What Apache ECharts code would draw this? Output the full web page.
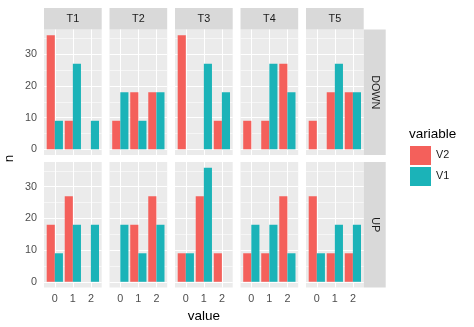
<!DOCTYPE html>
<html>
<head>
<meta charset="utf-8">
<script src="https://cdn.jsdelivr.net/npm/echarts@6/dist/echarts.min.js"></script>
<style>
  html, body { margin: 0; padding: 0; background: #fff; }
  #chart { width: 474px; height: 327px; }
</style>
</head>
<body>
<div id="chart"></div>
<script>
// facet labels and x categories
const facets = ['T1', 'T2', 'T3', 'T4', 'T5']
const rows = ['DOWN', 'UP']
const xValues = [0, 1, 2]

// counts per facet, one entry per x value
const downV2 = [[36, 9, 0], [9, 18, 18], [36, 0, 9], [9, 9, 27], [9, 18, 18]]
const downV1 = [[9, 27, 9], [18, 9, 18], [0, 27, 18], [0, 27, 18], [0, 27, 18]]
const upV2 = [[18, 27, 0], [0, 18, 27], [9, 27, 9], [9, 9, 27], [27, 9, 9]]
const upV1 = [[9, 18, 18], [18, 9, 18], [9, 36, 0], [18, 18, 9], [9, 18, 18]]

const yTicks = [0, 10, 20, 30]
const yMinor = [5, 15, 25, 35]

const colV2 = '#F4605B'
const colV1 = '#1BB3B8'
const font = 'Liberation Sans, Arial, sans-serif'

// panel geometry
const colLeft = [44, 109.5, 175, 240.5, 306]
const panelW = 57.7
const rowTop = [29.5, 162]
const panelH = 125.5
const stripH = 21.5
const stripW = 22
const xMin = -0.6, xMax = 2.6
const yMin = -1.8, yMax = 37.8
const barW = 0.45 * panelW / (xMax - xMin)

const rowData = [[downV2, downV1], [upV2, upV1]]

const grid = [], xAxis = [], yAxis = [], series = [], graphic = []

rows.forEach((rowName, r) => {
  facets.forEach((f, c) => {
    const g = grid.length
    const bottom = r === rows.length - 1
    const left = c === 0
    grid.push({
      left: colLeft[c], top: rowTop[r], width: panelW, height: panelH,
      show: true, backgroundColor: '#EBEBEB', borderWidth: 0
    })
    xAxis.push({
      type: 'value', gridIndex: g, min: xMin, max: xMax,
      axisLine: {show: false},
      splitLine: {show: false},
      axisTick: {show: bottom, customValues: xValues, length: 3, lineStyle: {color: '#333', width: 1}},
      axisLabel: {show: bottom, customValues: xValues, margin: 6, color: '#4D4D4D', fontSize: 10.8, fontFamily: font}
    })
    yAxis.push({
      type: 'value', gridIndex: g, min: yMin, max: yMax,
      axisLine: {show: false},
      splitLine: {show: false},
      axisTick: {show: left, customValues: yTicks, length: 3, lineStyle: {color: '#333', width: 1}},
      axisLabel: {show: left, customValues: yTicks, margin: 7, color: '#4D4D4D', fontSize: 10.8, fontFamily: font}
    })
    // white panel grid lines, kept under the bars
    series.push({
      type: 'line', xAxisIndex: g, yAxisIndex: g, data: [], silent: true,
      markLine: {
        silent: true, symbol: 'none', z: 1, animation: false,
        label: {show: false},
        data: [
          ...yMinor.map(v => ({yAxis: v, lineStyle: {color: '#fff', width: 0.55, type: 'solid'}})),
          ...yTicks.map(v => ({yAxis: v, lineStyle: {color: '#fff', width: 1.1, type: 'solid'}})),
          ...xValues.map(v => ({xAxis: v, lineStyle: {color: '#fff', width: 1.1, type: 'solid'}}))
        ]
      }
    })
    const [v2, v1] = rowData[r]
    series.push({
      type: 'bar', name: 'V2', xAxisIndex: g, yAxisIndex: g,
      barWidth: barW, barGap: '0%', itemStyle: {color: colV2},
      data: xValues.map((x, i) => [x, v2[c][i]])
    })
    series.push({
      type: 'bar', name: 'V1', xAxisIndex: g, yAxisIndex: g,
      barWidth: barW, barGap: '0%', itemStyle: {color: colV1},
      data: xValues.map((x, i) => [x, v1[c][i]])
    })
  })
})

// column strips
facets.forEach((f, c) => {
  graphic.push({
    type: 'rect', left: colLeft[c], top: rowTop[0] - stripH, silent: true,
    shape: {width: panelW, height: stripH}, style: {fill: '#D9D9D9'}
  })
  graphic.push({
    type: 'text', x: colLeft[c] + panelW / 2, y: rowTop[0] - stripH / 2, silent: true,
    style: {text: f, fill: '#1A1A1A', font: '10.8px ' + font, align: 'center', verticalAlign: 'middle'}
  })
})

// row strips
const stripX = colLeft[colLeft.length - 1] + panelW
rows.forEach((rowName, r) => {
  graphic.push({
    type: 'rect', left: stripX, top: rowTop[r], silent: true,
    shape: {width: stripW, height: panelH}, style: {fill: '#D9D9D9'}
  })
  graphic.push({
    type: 'text', x: stripX + stripW / 2, y: rowTop[r] + panelH / 2, rotation: -Math.PI / 2, silent: true,
    style: {text: rowName, fill: '#1A1A1A', font: '10.8px ' + font, align: 'center', verticalAlign: 'middle'}
  })
})

// axis titles and legend title
graphic.push({
  type: 'text', x: 9, y: (rowTop[0] + rowTop[1] + panelH) / 2, rotation: Math.PI / 2, silent: true,
  style: {text: 'n', fill: '#000', font: '13.5px ' + font, align: 'center', verticalAlign: 'middle'}
})
graphic.push({
  type: 'text', x: (colLeft[0] + stripX) / 2, y: 316, silent: true,
  style: {text: 'value', fill: '#000', font: '13.5px ' + font, align: 'center', verticalAlign: 'middle'}
})
graphic.push({
  type: 'text', x: 409, y: 134, silent: true,
  style: {text: 'variable', fill: '#000', font: '13.5px ' + font, align: 'left', verticalAlign: 'middle'}
})

const chart = echarts.init(document.getElementById('chart'))
chart.setOption({
  animation: false,
  backgroundColor: '#fff',
  grid, xAxis, yAxis, series, graphic,
  legend: {
    data: ['V2', 'V1'],
    orient: 'vertical',
    left: 410, top: 146,
    padding: 0,
    icon: 'rect',
    itemWidth: 21, itemHeight: 19, itemGap: 2,
    selectedMode: false,
    textStyle: {color: '#1A1A1A', fontSize: 10.8, fontFamily: font}
  }
})
</script>
</body>
</html>
